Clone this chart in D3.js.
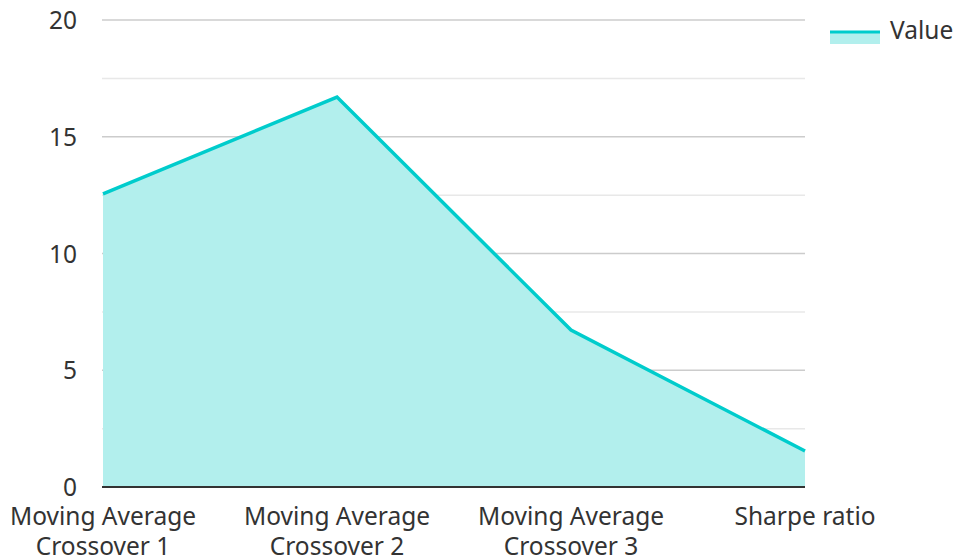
<!DOCTYPE html>
<html>
<head>
<meta charset="utf-8">
<script src="https://cdn.jsdelivr.net/npm/d3@7"></script>
<style>
  body { margin: 0; background: #fff; }
  text { font-family: "Noto Sans", "Open Sans", sans-serif; }
</style>
</head>
<body>
<div id="chart"></div>
<script>
const categories = ["Moving Average\nCrossover 1", "Moving Average\nCrossover 2", "Moving Average\nCrossover 3", "Sharpe ratio"];
const values = [12.55, 16.7, 6.72, 1.54];
const yTicks = [0, 5, 10, 15, 20];
const yMinor = [2.5, 7.5, 12.5, 17.5];

const width = 955;
const height = 560;
const margin = {top: 20, right: 150, bottom: 73, left: 103};
const fontSize = 24.5;

const svg = d3.select('#chart')
    .append('svg')
    .attr('width', width)
    .attr('height', height);

const x = d3.scalePoint()
    .domain(categories)
    .range([margin.left, width - margin.right]);

const y = d3.scaleLinear()
    .domain([0, 20])
    .range([height - margin.bottom, margin.top]);

// gridlines
svg.append('g')
    .selectAll('line')
    .data(yMinor)
    .join('line')
        .attr('x1', margin.left - 1)
        .attr('x2', width - margin.right)
        .attr('y1', d => y(d))
        .attr('y2', d => y(d))
        .attr('stroke', '#e8e8e8')
        .attr('stroke-width', 1.5);

svg.append('g')
    .selectAll('line')
    .data(yTicks.filter(d => d !== 0))
    .join('line')
        .attr('x1', margin.left - 1)
        .attr('x2', width - margin.right)
        .attr('y1', d => y(d))
        .attr('y2', d => y(d))
        .attr('stroke', '#cccccc')
        .attr('stroke-width', 1.5);

// area + line
const pts = categories.map((c, i) => ({c, v: values[i]}));

svg.append('path')
    .datum(pts)
    .attr('fill', '#b2efed')
    .attr('d', d3.area().x(d => x(d.c)).y0(y(0)).y1(d => y(d.v)));

svg.append('path')
    .datum(pts)
    .attr('fill', 'none')
    .attr('stroke', '#00cccc')
    .attr('stroke-width', 3.5)
    .attr('d', d3.line().x(d => x(d.c)).y(d => y(d.v)));

// baseline
svg.append('line')
    .attr('x1', margin.left - 1)
    .attr('x2', width - margin.right)
    .attr('y1', y(0))
    .attr('y2', y(0))
    .attr('stroke', '#333')
    .attr('stroke-width', 2);

// y axis labels
svg.append('g')
    .selectAll('text')
    .data(yTicks)
    .join('text')
        .attr('x', 77)
        .attr('y', d => y(d) + 9)
        .attr('text-anchor', 'end')
        .attr('font-size', fontSize)
        .attr('fill', '#333')
        .text(d => d);

// x axis labels
const xl = svg.append('g')
    .selectAll('text')
    .data(categories)
    .join('text')
        .attr('text-anchor', 'middle')
        .attr('font-size', fontSize)
        .attr('fill', '#333')
        .attr('transform', d => `translate(${x(d)}, ${height - margin.bottom + 38})`);

xl.selectAll('tspan')
    .data(d => d.split('\n'))
    .join('tspan')
        .attr('x', 0)
        .attr('dy', (d, i) => i === 0 ? 0 : 30)
        .text(d => d);

// legend
const lg = svg.append('g').attr('transform', 'translate(830, 30)');
lg.append('rect').attr('x', 0).attr('y', 2).attr('width', 50).attr('height', 12).attr('fill', '#b2efed');
lg.append('line').attr('x1', 0).attr('x2', 50).attr('y1', 2).attr('y2', 2)
    .attr('stroke', '#00cccc').attr('stroke-width', 3);
lg.append('text').attr('x', 60).attr('y', 9).attr('font-size', fontSize).attr('fill', '#333').text('Value');
</script>
</body>
</html>
